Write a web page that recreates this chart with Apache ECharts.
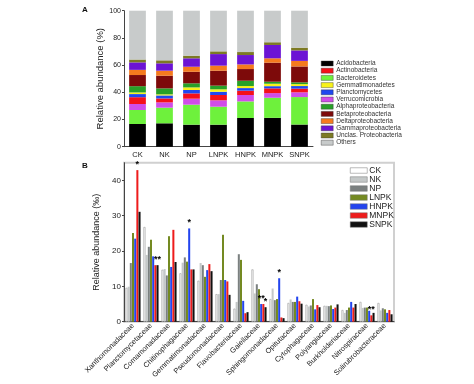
<!DOCTYPE html>
<html>
<head>
<meta charset="utf-8">
<script src="https://cdn.jsdelivr.net/npm/echarts@6/dist/echarts.min.js"></script>
<style>html,body{margin:0;padding:0;background:#fff}#c{width:474px;height:384px}</style>
</head>
<body>
<div id="c"></div>
<script>
// ---------- Panel A data ----------
const treatments = ['CK','NK','NP','LNPK','HNPK','MNPK','SNPK'];
const yTicksA = [0,20,40,60,80,100];
const legendOrderA = ['Acidobacteria','Actinobacteria','Bacteroidetes','Gemmatimonadetes','Planctomycetes','Verrucomicrobia','Alphaproteobacteria','Betaproteobacteria','Deltaproteobacteria','Gammaproteobacteria','Unclas. Proteobacteria','Others'];
const Acidobacteria       = [16.7,17.2,16.2,16.2,21.1,21.2,16.3];
const Bacteroidetes       = [10.3,11.5,14.7,13.2,12.2,14.8,20.2];
const Verrucomicrobia     = [4.4,3.9,4.4,4.7,4.7,3.4,3.5];
const Actinobacteria      = [5.0,2.9,3.9,3.9,3.2,3.5,2.7];
const Planctomycetes      = [2.3,2.2,2.5,2.4,1.9,1.6,1.9];
const Gemmatimonadetes    = [1.2,0.8,1.9,1.8,1.5,1.8,1.4];
const Alphaproteobacteria = [4.6,4.4,3.0,2.7,3.9,1.5,1.3];
const Betaproteobacteria  = [8.2,9.3,8.5,11.0,8.6,14.0,11.7];
const Deltaproteobacteria = [3.8,3.7,3.7,3.7,3.4,3.2,4.1];
const Gammaproteobacteria = [5.5,5.4,6.2,8.5,6.9,9.8,7.7];
const UnclasProteobacteria= [2.1,2.2,1.9,2.0,2.2,2.0,2.0];
const Others              = [35.9,36.5,33.1,29.9,30.4,23.2,27.2];

// ---------- Panel B data ----------
const families = ['Xanthomonadaceae','Planctomycetaceae','Comamonadaceae','Chitinophagaceae','Gemmatimonadaceae','Pseudomonadaceae','Flavobacteriaceae','Gaiellaceae','Sphingomonadaceae','Opitutaceae','Cytophagaceae','Polyangiaceae','Burkholderiaceae','Nitrospiraceae','Solirubrobacteraceae'];
const yTicksB = [0,10,20,30,40];
const B_CK   = [9.6,26.8,14.7,13.7,11.6,7.8,3.7,14.8,6.4,5.3,4.8,4.5,3.3,5.6,5.3];
const B_NK   = [9.9,18.9,14.9,16.7,16.6,7.8,5.6,8.0,9.4,6.3,4.3,4.5,2.5,3.9,3.2];
const B_NP   = [16.6,21.2,13.1,18.2,16.0,11.8,19.1,10.6,6.1,5.6,4.6,4.4,3.3,4.0,3.8];
const B_LNPK = [25.1,23.2,24.2,17.0,12.7,24.6,17.5,9.2,6.4,5.6,6.4,4.6,4.0,4.0,3.5];
const B_HNPK = [23.5,18.5,15.5,26.4,14.6,11.8,5.9,5.0,12.3,7.1,3.5,3.6,5.6,3.1,2.5];
const B_MNPK = [42.9,16.0,26.0,14.8,16.3,11.4,2.4,5.0,1.2,5.8,4.7,4.0,4.0,1.8,3.3];
const B_SNPK = [31.1,16.0,16.9,14.8,14.3,7.6,2.7,4.1,1.0,5.1,4.1,4.9,5.0,2.5,2.1];
const marks = [
  {family:'Xanthomonadaceae', treatment:'MNPK', text:'*'},
  {family:'Planctomycetaceae', treatment:'SNPK', text:'**'},
  {family:'Chitinophagaceae', treatment:'HNPK', text:'*'},
  {family:'Gaiellaceae', treatment:'HNPK', text:'**'},
  {family:'Gaiellaceae', treatment:'SNPK', text:'*'},
  {family:'Sphingomonadaceae', treatment:'HNPK', text:'*'},
  {family:'Nitrospiraceae', treatment:'MNPK', text:'**'}
];

const FONT = '"Liberation Sans", Arial, sans-serif';

const seriesA = [
  ['Acidobacteria', Acidobacteria, '#000000'],
  ['Bacteroidetes', Bacteroidetes, '#6ef13c'],
  ['Verrucomicrobia', Verrucomicrobia, '#d04de8'],
  ['Actinobacteria', Actinobacteria, '#f4101a'],
  ['Planctomycetes', Planctomycetes, '#1f48f0'],
  ['Gemmatimonadetes', Gemmatimonadetes, '#f8f21a'],
  ['Alphaproteobacteria', Alphaproteobacteria, '#28a028'],
  ['Betaproteobacteria', Betaproteobacteria, '#7d0a0a'],
  ['Deltaproteobacteria', Deltaproteobacteria, '#f57a1e'],
  ['Gammaproteobacteria', Gammaproteobacteria, '#6c14d4'],
  ['Unclas. Proteobacteria', UnclasProteobacteria, '#7c7a24'],
  ['Others', Others, '#c8cbcb']
];

const seriesB = [
  ['CK', B_CK, '#ffffff'],
  ['NK', B_NK, '#c4c8c8'],
  ['NP', B_NP, '#7b8080'],
  ['LNPK', B_LNPK, '#748a22'],
  ['HNPK', B_HNPK, '#2344ee'],
  ['MNPK', B_MNPK, '#ee1c1c'],
  ['SNPK', B_SNPK, '#111111']
];

const series = [];
seriesA.forEach(([name, vals, color]) => {
  series.push({
    name, type:'bar', stack:'A', xAxisIndex:0, yAxisIndex:0,
    barWidth:'62%', data: vals,
    itemStyle:{color}, emphasis:{disabled:true}
  });
});
seriesB.forEach(([name, vals, color]) => {
  series.push({
    name, type:'bar', xAxisIndex:1, yAxisIndex:1,
    barGap:'8%', barCategoryGap:'16%',
    itemStyle:{color, borderColor: name==='CK' ? '#9a9a9a' : color, borderWidth: name==='CK' ? 0.6 : 0},
    emphasis:{disabled:true},
    data: vals.map((v,i) => {
      const m = marks.find(k => k.family===families[i] && k.treatment===name);
      if (!m) return v;
      return {value:v, label:{show:true, position:'top', distance:1, formatter:m.text, fontSize:9, fontWeight:'bold', color:'#000', fontFamily:FONT}};
    })
  });
});

const axisLineStyle = {color:'#444', width:1};
const chart = echarts.init(document.getElementById('c'));
chart.setOption({
  animation:false,
  backgroundColor:'#fff',
  textStyle:{fontFamily:FONT},
  title:[
    {text:'A', left:77, top:1, textStyle:{fontSize:8, fontWeight:'bold', color:'#111', fontFamily:FONT}},
    {text:'B', left:77, top:157, textStyle:{fontSize:8, fontWeight:'bold', color:'#111', fontFamily:FONT}}
  ],
  legend:[
    {data:legendOrderA, orient:'vertical', left:316, top:55, itemWidth:12, itemHeight:5, itemGap:0.2,
     icon:'rect', selectedMode:false,
     textStyle:{fontSize:6.5, color:'#333', fontFamily:FONT, lineHeight:6, padding:[0,0,0,-2]},
     itemStyle:{borderColor:'#333', borderWidth:0.4}},
    {data:treatments, orient:'vertical', left:345, top:161, itemWidth:17, itemHeight:5.5, itemGap:0,
     icon:'rect', selectedMode:false,
     textStyle:{fontSize:8.5, color:'#222', fontFamily:FONT, lineHeight:7, padding:[0,0,0,-3]},
     itemStyle:{borderColor:'#777', borderWidth:0.5}}
  ],
  grid:[
    {left:124, top:10.7, width:189, height:136},
    {left:124, top:162.7, width:270, height:159, show:true, borderColor:'#d0d0d0', borderWidth:2, backgroundColor:'transparent'}
  ],
  xAxis:[
    {type:'category', gridIndex:0, data:treatments,
     axisLine:{lineStyle:axisLineStyle}, axisTick:{show:false},
     axisLabel:{fontSize:7.5, color:'#222', margin:4, interval:0}},
    {type:'category', gridIndex:1, data:families,
     axisLine:{lineStyle:axisLineStyle}, axisTick:{alignWithLabel:true, length:2, lineStyle:{color:'#444'}},
     axisLabel:{fontSize:7.4, color:'#222', rotate:45, margin:3, interval:0}}
  ],
  yAxis:[
    {type:'value', gridIndex:0, min:yTicksA[0], max:yTicksA[yTicksA.length-1], interval:yTicksA[1]-yTicksA[0],
     splitLine:{show:false}, axisLine:{show:true, lineStyle:axisLineStyle},
     axisTick:{show:true, length:2, lineStyle:{color:'#444'}},
     axisLabel:{fontSize:7, color:'#222', margin:3},
     name:'Relative abundance (%)', nameLocation:'middle', nameGap:17,
     nameTextStyle:{fontSize:9.5, color:'#222'}},
    {type:'value', gridIndex:1, min:yTicksB[0], max:45, interval:yTicksB[1]-yTicksB[0],
     splitLine:{show:false}, axisLine:{show:true, lineStyle:axisLineStyle},
     axisTick:{show:true, length:2, lineStyle:{color:'#444'}},
     axisLabel:{fontSize:8, color:'#222', margin:3, showMaxLabel:false},
     name:'Relative abundance (‰)', nameLocation:'middle', nameGap:17,
     nameTextStyle:{fontSize:9, color:'#222'}}
  ],
  series
});
</script>
</body>
</html>
